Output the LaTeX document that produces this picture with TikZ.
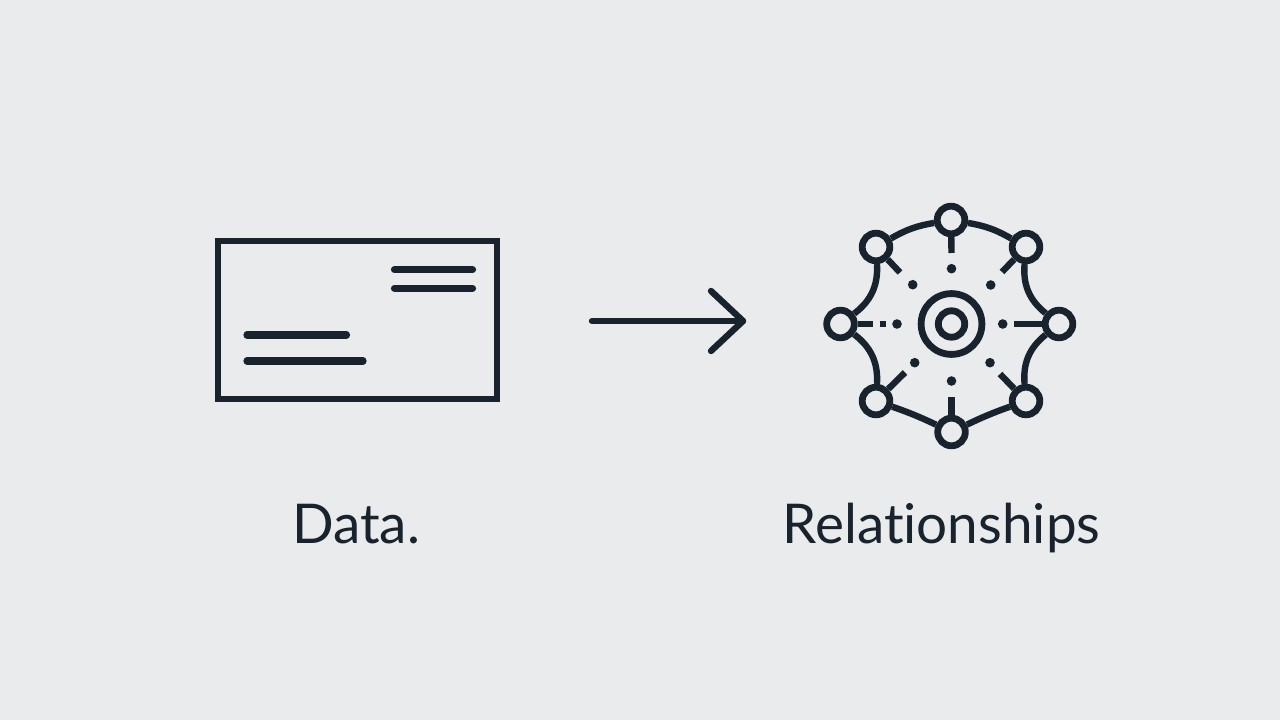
\documentclass[tikz,border=0pt]{standalone}
\usepackage{fontspec}
\setmainfont[Ligatures=NoCommon]{Lato}
\definecolor{paper}{HTML}{E9EBED}
\definecolor{ink}{HTML}{18232E}
\tikzset{
    netnode/.style={circle,draw=ink,line width=0.85mm,minimum size=3.45mm,inner sep=0pt},
    netdot/.style={circle,fill=ink,inner sep=0pt,minimum size=1.2mm},
    spoke/.style={draw=ink,line width=0.8mm},
    rim/.style={draw=ink,line width=0.8mm},
    textbar/.style={draw=ink,line width=0.9mm,line cap=round},
    caption/.style={text=ink,font=\fontsize{19.5pt}{24pt}\selectfont,anchor=base}
}
\begin{document}
\begin{tikzpicture}[x=0.125mm,y=-0.125mm]
        \fill[paper] (0,0) rectangle (1280,720);
        % left card
        \draw[ink,line width=0.85mm] (218,241) rectangle (497,399);
        \coordinate (P1) at (394.5,269.7);
        \coordinate (Q1) at (472.5,269.7);
        \coordinate (P2) at (394.5,288.3);
        \coordinate (Q2) at (472.5,288.3);
        \coordinate (P3) at (247,335);
        \coordinate (Q3) at (346.5,335);
        \coordinate (P4) at (247,361);
        \coordinate (Q4) at (363,361);
        \foreach \n in {1,2,3,4}
            \draw[textbar] (P\n)--(Q\n);
        % arrow
        \coordinate (S) at (592,321);
        \coordinate (T) at (743,321);
        \coordinate (U) at (711,291);
        \coordinate (V) at (711,351);
        \draw[ink,line width=0.8mm,line cap=round,line join=round] (S)--(T);
        \draw[ink,line width=0.8mm,line cap=round,line join=round] (U)--(T)--(V);
        % network
        \node[netnode] (N) at (951,220) {};
        \node[netnode] (NW) at (876,247) {};
        \node[netnode] (W) at (840.5,324) {};
        \node[netnode] (SW) at (876,401) {};
        \node[netnode] (Z) at (951.5,432) {};
        \node[netnode] (SE) at (1026,401) {};
        \node[netnode] (E) at (1059,324) {};
        \node[netnode] (NE) at (1026,247) {};
        \draw[rim] (N) to[bend right=10] (NW);
        \draw[rim] (NW) to[bend left=28] (W);
        \draw[rim] (W) to[bend left=28] (SW);
        \draw[rim] (SW) to[bend left=3] (Z);
        \draw[rim] (Z) to[bend left=3] (SE);
        \draw[rim] (SE) to[bend left=28] (E);
        \draw[rim] (E) to[bend left=28] (NE);
        \draw[rim] (NE) to[bend right=10] (N);
        % spokes
        \coordinate (aN) at (951.5,253);
        \coordinate (aNW) at (900,272.5);
        \coordinate (aW) at (873,324);
        \coordinate (aSW) at (905,372.5);
        \coordinate (aZ) at (951.5,397);
        \coordinate (aSE) at (1000,374);
        \coordinate (aE) at (1014,324);
        \coordinate (aNE) at (1002,272);
        \foreach \n in {N,NW,W,SW,Z,SE,E,NE}
            \draw[spoke] (\n)--(a\n);
        \coordinate (b1) at (879.5,324);
        \coordinate (b2) at (886,324);
        \draw[spoke] (b1)--(b2);
        % dots
        \coordinate (dN) at (951.5,268.7);
        \coordinate (dNW) at (912.7,284.7);
        \coordinate (dW) at (897,324);
        \coordinate (dSW) at (914.7,362.7);
        \coordinate (dZ) at (951.5,381);
        \coordinate (dSE) at (990,362.7);
        \coordinate (dE) at (1002.7,324);
        \coordinate (dNE) at (990.7,285);
        \foreach \n in {dN,dNW,dW,dSW,dZ,dSE,dE,dNE}
            \node at (\n)[netdot]{};
        % hub
        \node[netnode,minimum size=7.6mm] (hubouter) at (951.5,324) {};
        \node[netnode,minimum size=3.3mm] (hubinner) at (951.5,324) {};
        % labels
        \node[caption] (data) at (356,543) {Data.};
        \node[caption] (rel) at (941.5,543) {Relationships};
    \end{tikzpicture}
\end{document}
